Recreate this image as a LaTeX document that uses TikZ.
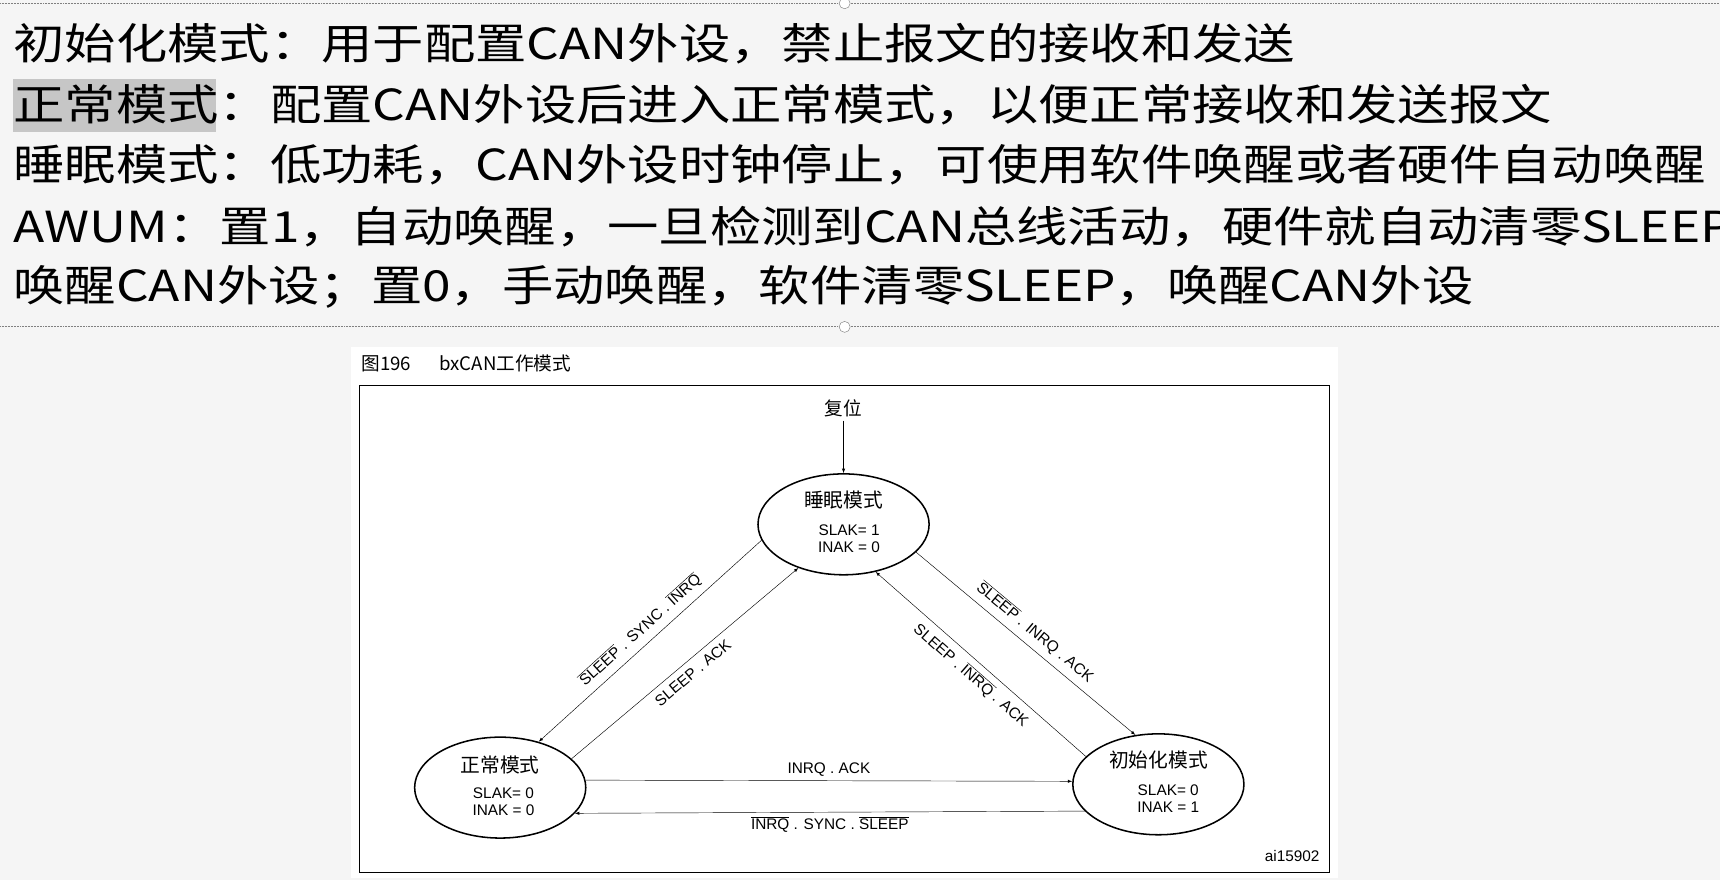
\documentclass[tikz,border=0pt]{standalone}
\usepackage{fontspec}
\usetikzlibrary{shapes.geometric}
\setmainfont{Noto Sans CJK SC}
\newfontfamily\lab{Liberation Sans}
\newcommand{\ol}[1]{$\overline{\mbox{#1}}$}
\newcommand{\wide}[1]{\scalebox{1.2}[1]{#1}}
\begin{document}
\begin{tikzpicture}[x=1pt,y=-1pt,
    head/.style={anchor=west,font=\fontsize{39}{39}\selectfont,inner sep=0pt},
    state/.style={draw,ellipse,line width=1.4pt,minimum width=156pt,minimum height=92pt},
    lbl/.style={font=\lab\fontsize{14}{15}\selectfont,inner sep=1pt},
    tr/.style={->,>=latex,thin}]
    \fill[gray!8] (0,0) rectangle (1568,802);
    \useasboundingbox (0,0) rectangle (1568,802);
    % heading text
    \draw[densely dotted,gray] (0,3)--(1568,3);
    \draw[densely dotted,gray] (0,297)--(1568,297);
    \draw[gray,fill=white] (770,3) circle(5);
    \draw[gray,fill=white] (770,298) circle(5);
    \fill[gray!45] (12,72) rectangle (197,120);
    \node[head] (l1) at (12,40) {\wide{初始化模式：用于配置CAN外设，禁止报文的接收和发送}};
    \node[head] (l2) at (12,95) {\wide{正常模式：配置CAN外设后进入正常模式，以便正常接收和发送报文}};
    \node[head] (l3) at (12,150) {\wide{睡眠模式：低功耗，CAN外设时钟停止，可使用软件唤醒或者硬件自动唤醒}};
    \node[head] (l4) at (12,207) {\wide{AWUM：置1，自动唤醒，一旦检测到CAN总线活动，硬件就自动清零SLEEP，}};
    \node[head] (l5) at (12,262) {\wide{唤醒CAN外设；置0，手动唤醒，软件清零SLEEP，唤醒CAN外设}};
    % figure
    \fill[white] (320,316) rectangle (1220,800);
    \node[anchor=west,font=\fontsize{17}{17}\selectfont] (cap) at (326,331) {图196\hspace{26pt}bxCAN工作模式};
    \draw[thick] (328,351) rectangle (1212,795);
    \node[state] (sleep) at (769,478) {};
    \node[state] (norm) at (456,718) {};
    \node[state] (init) at (1056,715) {};
    \node[font=\fontsize{18}{18}\selectfont] at (769,456) {睡眠模式};
    \node[lbl,align=center] at (774,491) {SLAK= 1\\INAK = 0};
    \node[font=\fontsize{18}{18}\selectfont] at (456,697) {正常模式};
    \node[lbl,align=center] at (459,731) {SLAK= 0\\INAK = 0};
    \node[font=\fontsize{18}{18}\selectfont] at (1056,693) {初始化模式};
    \node[lbl,align=center] at (1065,728) {SLAK= 0\\INAK = 1};
    \node[font=\fontsize{17}{17}\selectfont] (reset) at (769,372) {复位};
    \draw[tr] (reset) -- (sleep);
    \draw[tr] (sleep.191) -- (norm.50) node[midway,above,sloped,lbl,yshift=5pt] {\ol{SLEEP} . SYNC . \ol{INRQ}};
    \draw[tr] (norm.22) -- (sleep.224) node[midway,below,sloped,lbl,yshift=-5pt] {SLEEP . ACK};
    \draw[tr] (sleep.339) -- (init.115) node[midway,above,sloped,lbl,yshift=5pt] {\ol{SLEEP} . INRQ . ACK};
    \draw[tr] (init.159) -- (sleep.304) node[midway,below,sloped,lbl,yshift=-5pt] {SLEEP . \ol{INRQ} . ACK};
    \draw[tr] (norm.5) -- (init.178) node[midway,above,lbl,yshift=3pt] {INRQ . ACK};
    \draw[tr] (init.200) -- (norm.341) node[midway,below,lbl,yshift=-3pt] {\ol{INRQ} . SYNC . \ol{SLEEP}};
    \node[lbl] (id) at (1178,780) {ai15902};
\end{tikzpicture}
\end{document}
